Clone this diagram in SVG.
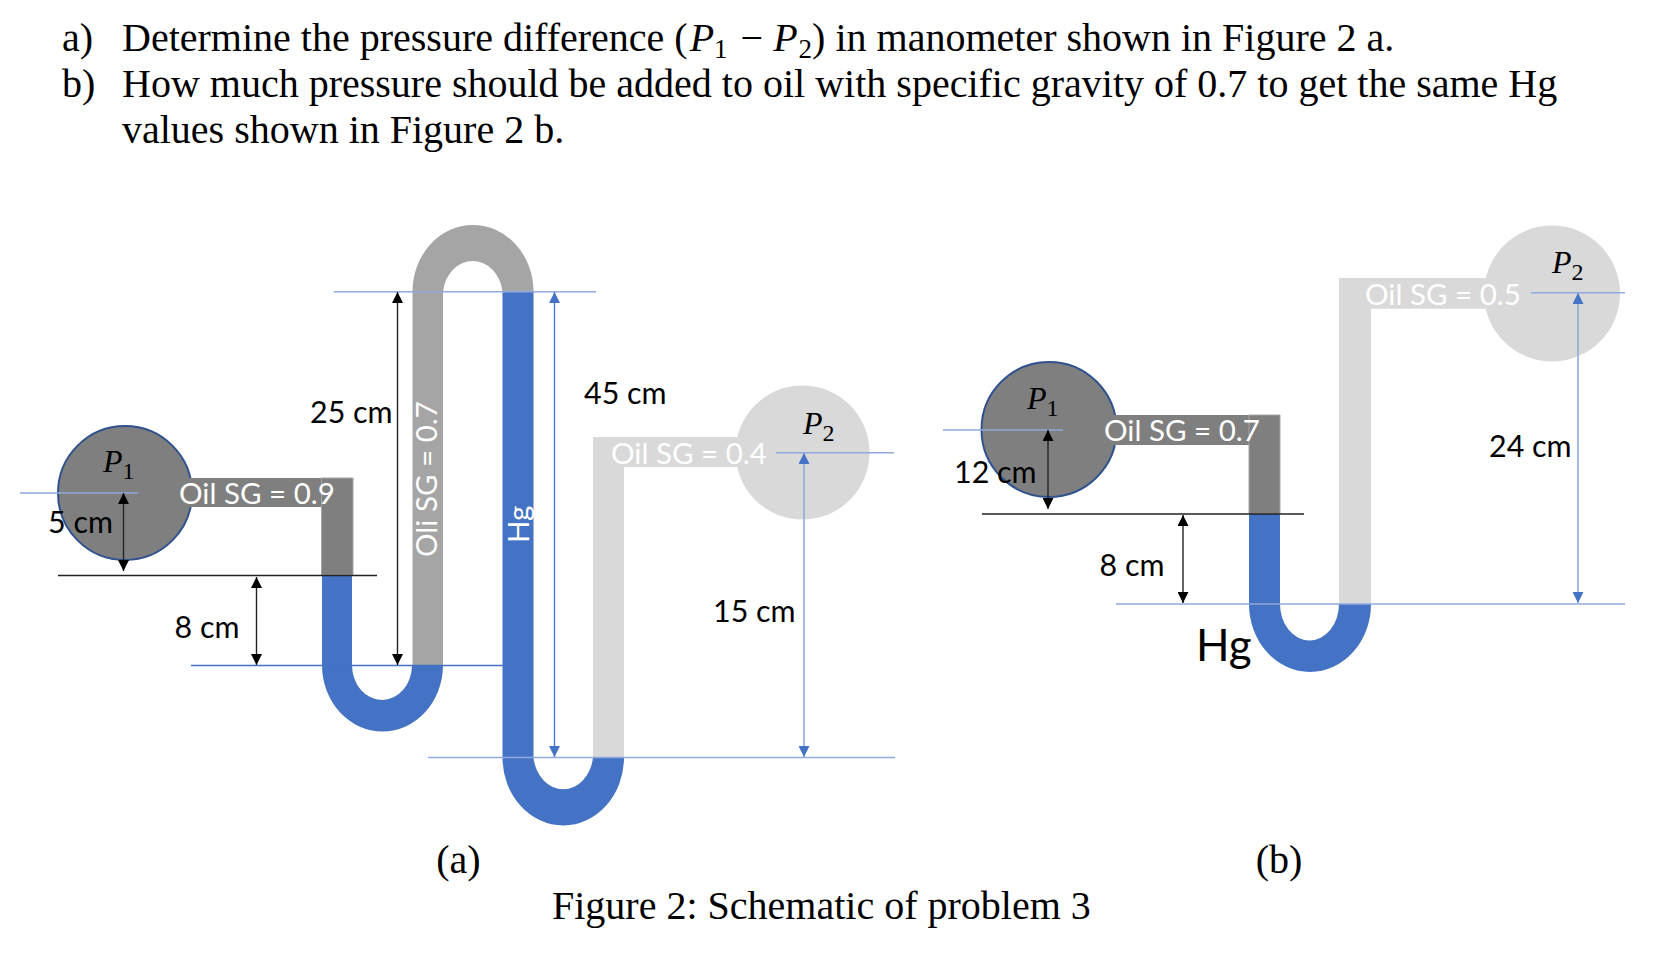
<svg xmlns="http://www.w3.org/2000/svg" width="1668" height="977" viewBox="0 0 1668 977">
<style>
.t{font-family:"Liberation Serif",serif;font-size:40px;fill:#000}
.l{font-family:Lato,"Open Sans",sans-serif;font-size:30.400px;fill:#000}
.w{font-family:Lato,"Open Sans",sans-serif;font-size:29.500px;fill:#fff}
.m{font-family:"Liberation Serif",serif;font-style:italic;font-size:32px;fill:#000}
.s{font-style:normal;font-size:24px}
.dk{fill:#7f7f7f}.md{fill:#a5a5a5}.lt{fill:#d9d9d9}.bl{fill:#4472c4}
.k{stroke:#222;stroke-width:1.4;fill:none}
.b{stroke:#8faadc;stroke-width:1.6;fill:none}
.a{marker-start:url(#ka);marker-end:url(#ka)}
.c{marker-start:url(#ba);marker-end:url(#ba)}
</style>
<defs>
<marker id="ka" viewBox="0 0 11 11" markerUnits="userSpaceOnUse" markerWidth="11" markerHeight="11" refX="11" refY="5.5" orient="auto-start-reverse"><path d="M0 0L11 5.5L0 11Z" fill="#000"/></marker>
<marker id="ba" viewBox="0 0 11 11" markerUnits="userSpaceOnUse" markerWidth="11" markerHeight="11" refX="11" refY="5.5" orient="auto-start-reverse"><path d="M0 0L11 5.5L0 11Z" fill="#4472c4"/></marker>
</defs>
<g id="problem-text">
<text class="t" x="62" y="51">a)</text>
<text class="t" x="122" y="51">Determine the pressure difference (<tspan font-style="italic" dx="2">P</tspan><tspan font-size="27" dy="7">1</tspan><tspan dy="-7" dx="3"> − </tspan><tspan font-style="italic">P</tspan><tspan font-size="27" dy="7" dx="1">2</tspan><tspan dy="-7">) in manometer shown in Figure 2 a.</tspan></text>
<text class="t" x="62" y="97">b)</text>
<text class="t" x="122" y="97">How much pressure should be added to oil with specific gravity of 0.7 to get the same Hg</text>
<text class="t" x="122" y="143">values shown in Figure 2 b.</text>
</g>
<g id="fig-a-p1">
<circle cx="125" cy="493" r="67" class="dk" stroke="#2f528f" stroke-width="2"/>
<rect class="dk" x="188" y="478" width="165" height="29"/>
<path class="dk" d="M321.500 478H353V575H321.500Z" stroke="#a5a5a5" stroke-width="1"/>
<text class="m" x="103" y="472">P<tspan class="s" dy="7">1</tspan></text>
<text class="w" x="179" y="504">Oil SG = 0.9</text>
</g>
<g id="fig-a-hg-left"><path class="bl" d="M322 575V665A60.500 66.500 0 0 0 443 665H412A30 35 0 0 1 352 665V575Z"/></g>
<g id="fig-a-oil-07">
<path class="md" d="M412.500 665V291.500A60.500 66.500 0 0 1 533.500 291.500H502.500A30 35 0 0 0 443 291.500V665Z"/>
<text class="w" transform="translate(437 557) rotate(-90)">Oli SG = 0.7</text>
</g>
<g id="fig-a-hg-right">
<path class="bl" d="M502.500 291.500V757.500A60.750 68 0 0 0 624 757.500H593A30 36.500 0 0 1 533.500 757.500V291.500Z"/>
<text class="w" transform="translate(529 543) rotate(-90)">Hg</text>
</g>
<g id="fig-a-p2">
<circle cx="802.500" cy="452.500" r="67" class="lt"/>
<path class="lt" d="M593 757.500V437H740V467H624V757.500Z"/>
<text class="w" x="611" y="464">Oil SG = 0.4</text>
<text class="m" x="803" y="434">P<tspan class="s" dy="7">2</tspan></text>
</g>
<g id="fig-b-p1">
<circle cx="1049" cy="429.500" r="67.500" class="dk" stroke="#2f528f" stroke-width="2"/>
<rect class="dk" x="1112" y="415" width="168" height="30"/>
<path class="dk" d="M1249 415H1280V514H1249Z" stroke="#a5a5a5" stroke-width="1"/>
<text class="m" x="1027" y="409">P<tspan class="s" dy="7">1</tspan></text>
<text class="w" x="1104" y="441">Oil SG = 0.7</text>
</g>
<g id="fig-b-hg"><path class="bl" d="M1249 514V604A61 68 0 0 0 1371 604H1339A29.500 36.500 0 0 1 1280 604V514Z"/></g>
<g id="fig-b-p2">
<circle cx="1552" cy="293.500" r="68" class="lt"/>
<path class="lt" d="M1339 604V278H1490V308.700H1371V604Z"/>
<text class="w" x="1365" y="305">Oil SG = 0.5</text>
<text class="m" x="1552" y="273">P<tspan class="s" dy="7">2</tspan></text>
</g>
<g id="connectors">
<line class="k" x1="58" y1="575.500" x2="377" y2="575.500"/>
<line class="b" x1="20" y1="493" x2="138" y2="493"/>
<line class="k a" x1="123.500" y1="493" x2="123.500" y2="571"/>
<line class="k a" x1="256.500" y1="577" x2="256.500" y2="665"/>
<line x1="191" y1="665.500" x2="503" y2="665.500" stroke="#4472c4" stroke-width="1.300"/>
<line class="b" x1="334" y1="291.700" x2="596" y2="291.700"/>
<line class="k a" x1="397.500" y1="292" x2="397.500" y2="665"/>
<line class="c" x1="554.500" y1="292" x2="554.500" y2="757" stroke="#4472c4" stroke-width="1.300"/>
<line class="b" x1="428" y1="757.500" x2="895" y2="757.500"/>
<line class="b" x1="776" y1="452.700" x2="894" y2="452.700"/>
<line class="b c" x1="804" y1="453" x2="804" y2="757"/>
<line class="k" x1="982" y1="514" x2="1304" y2="514"/>
<line class="b" x1="943" y1="430" x2="1063" y2="430"/>
<line class="k a" x1="1048" y1="430" x2="1048" y2="509"/>
<line class="k a" x1="1183" y1="515" x2="1183" y2="603"/>
<line class="b" x1="1116" y1="604" x2="1625" y2="604"/>
<line class="b" x1="1531" y1="292.700" x2="1625" y2="292.700"/>
<line class="b c" x1="1578" y1="293" x2="1578" y2="603"/>
</g>
<g id="dimension-labels">
<text class="l" x="310" y="423">25 cm</text>
<text class="l" x="48" y="533">5 cm</text>
<text class="l" x="174.500" y="638">8 cm</text>
<text class="l" x="584" y="404">45 cm</text>
<text class="l" x="713" y="622">15 cm</text>
<text class="l" x="954" y="483">12 cm</text>
<text class="l" x="1099.500" y="576">8 cm</text>
<text class="l" x="1489" y="457">24 cm</text>
<text class="l" x="1196" y="661" style="font-size:44px">Hg</text>
</g>
<g id="captions">
<text class="t" x="458.500" y="873" text-anchor="middle">(a)</text>
<text class="t" x="1279" y="873" text-anchor="middle">(b)</text>
<text class="t" x="552" y="919">Figure 2: Schematic of problem 3</text>
</g>
</svg>
